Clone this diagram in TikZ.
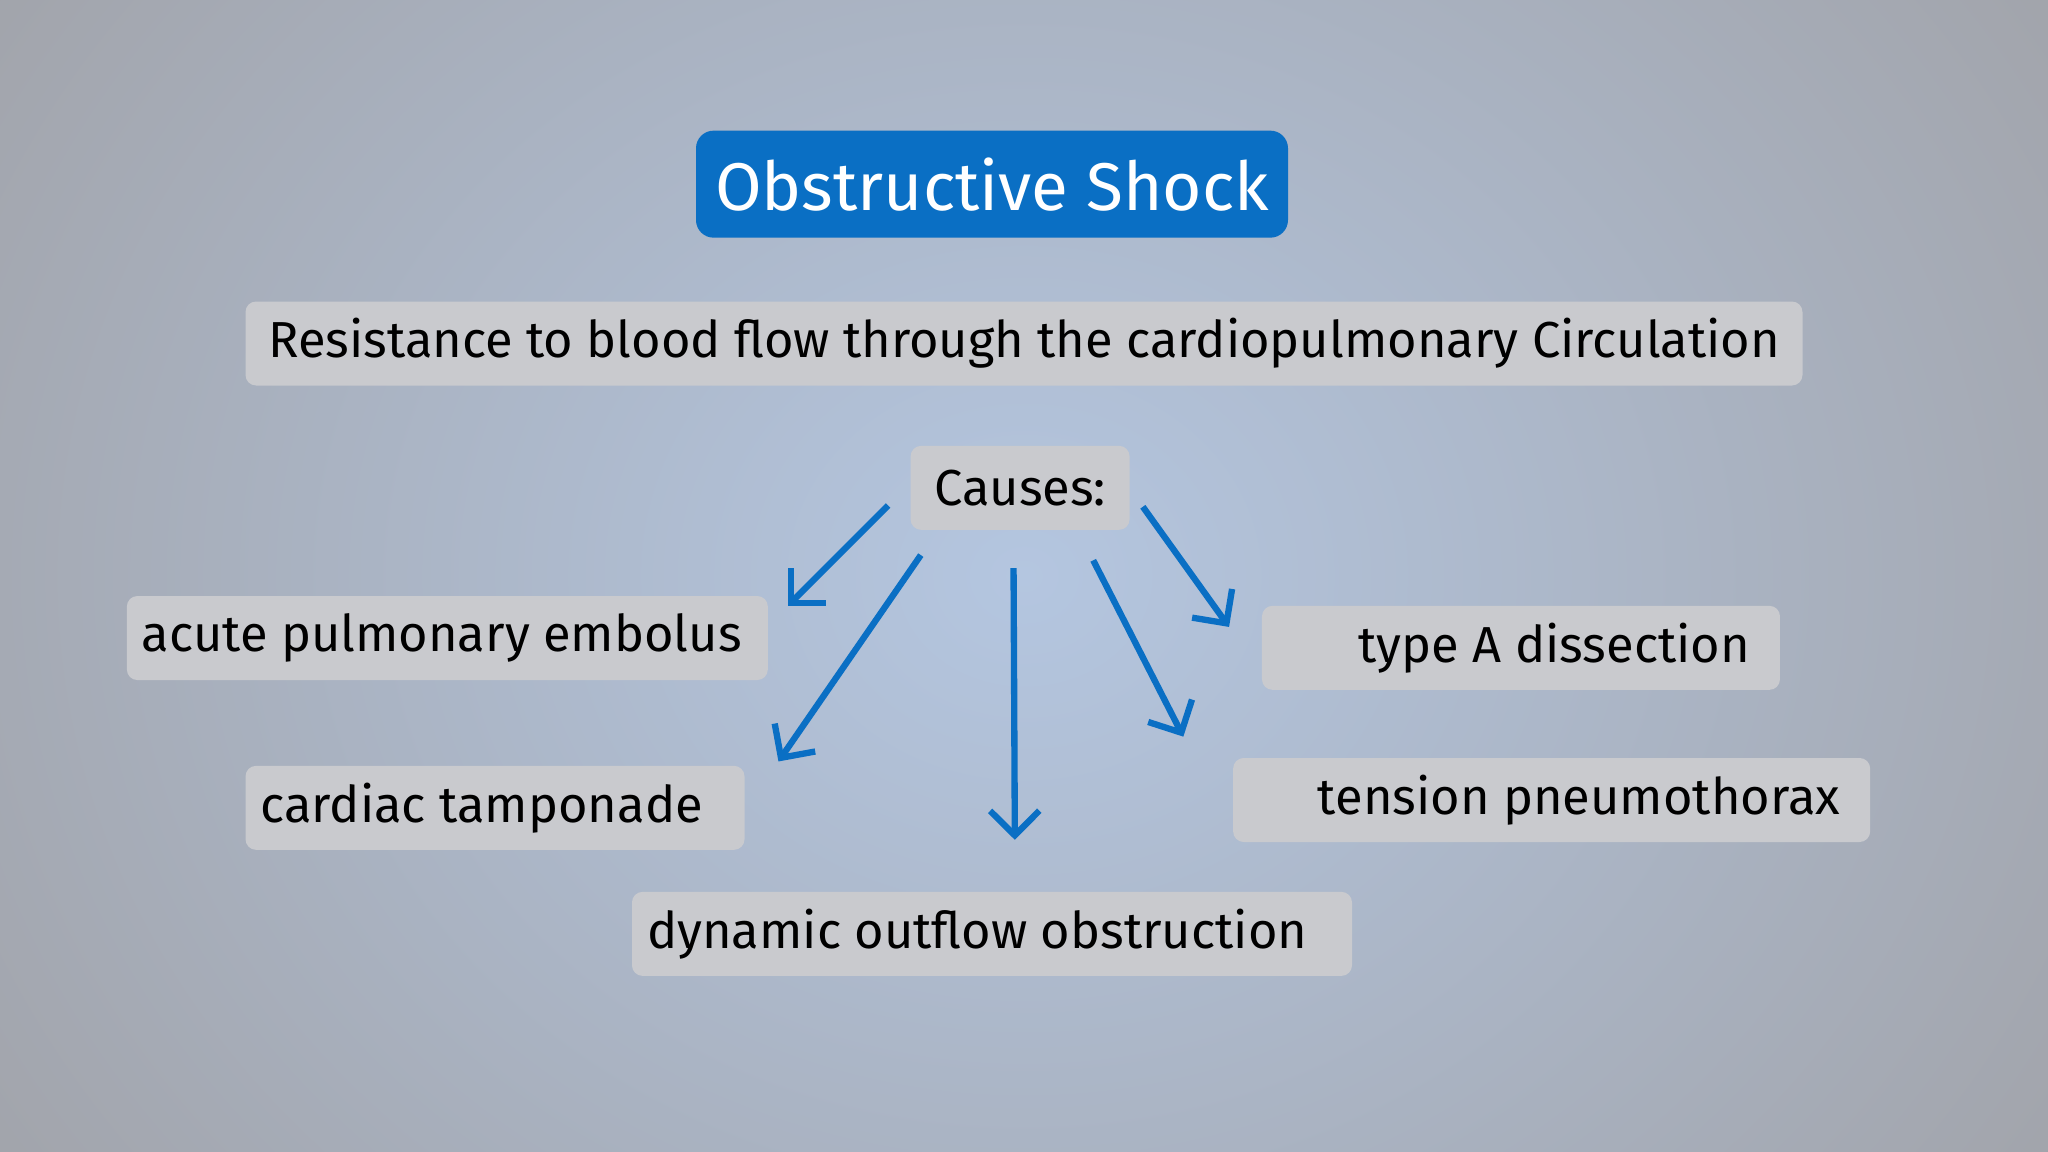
\documentclass[tikz,border=0pt]{standalone}
\usepackage{fontspec}
\setmainfont{Fira Sans}
\usetikzlibrary{arrows.meta}
\definecolor{shockblue}{HTML}{0A6FC4}
\definecolor{boxgray}{HTML}{C9CACE}
\definecolor{bgcentre}{HTML}{B4C6E0}
\definecolor{bgedge}{HTML}{A0A1A6}

\begin{document}
\begin{tikzpicture}[x=0.01306cm,y=-0.01306cm,
    causebox/.style={fill=boxgray,rounded corners=3pt,minimum height=0.84cm,inner xsep=0.15cm,
      font=\fontsize{14.4}{17}\selectfont,align=flush left},
    rightbox/.style={causebox,align=flush right,inner xsep=0.3cm},
    arr/.style={shockblue,line width=1.8pt,-{Straight Barb[length=7pt,width=14pt,line width=1.8pt]}}]
      \useasboundingbox (0,0) rectangle (1568,882);
      \shade[inner color=bgcentre,outer color=bgedge] (-250,-450) rectangle (1818,1332);
      \node[fill=shockblue,rounded corners=5pt,minimum width=5.92cm,minimum height=1.07cm,text=white,
        font=\fontsize{19.2}{23}\selectfont] (title) at (759.5,141) {Obstructive Shock};
      \node[causebox,minimum width=15.57cm,align=center] (resist) at (784,263) {Resistance to blood flow through the cardiopulmonary Circulation};
      \node[causebox,minimum width=2.19cm,align=center] (causes) at (781,373.5) {Causes:};
      \node[causebox,text width=6.11cm] (acute) at (342.5,488.5) {acute pulmonary embolus};
      \node[causebox,text width=4.69cm] (cardiac) at (379,618.5) {cardiac tamponade};
      \node[causebox,text width=6.90cm] (dynamic) at (759.5,715) {dynamic outflow obstruction};
      \node[rightbox,text width=4.58cm] (typeA) at (1164.5,496) {type A dissection};
      \node[rightbox,text width=5.77cm] (tension) at (1188,612.5) {tension pneumothorax};
      % arrows
      \coordinate (a1) at (680,387); \coordinate (b1) at (603,464);
      \coordinate (a2) at (705,425); \coordinate (b2) at (596,583);
      \coordinate (a3) at (776,435); \coordinate (b3) at (777,643);
      \coordinate (a4) at (837,429); \coordinate (b4) at (906,564);
      \coordinate (a5) at (875,388); \coordinate (b5) at (941,480);
      \foreach \i in {1,...,5} {\draw[arr] (a\i) -- (b\i);}
   \end{tikzpicture}
\end{document}
